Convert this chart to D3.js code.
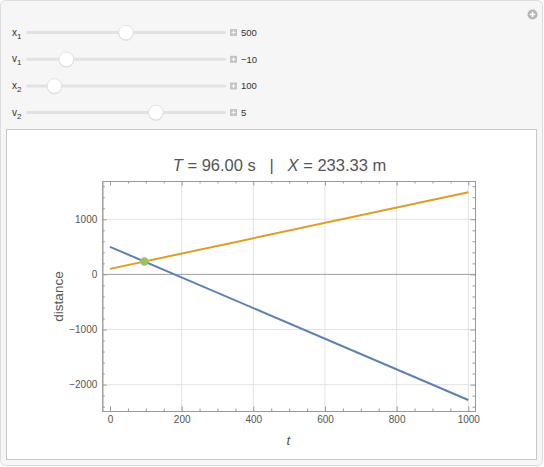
<!DOCTYPE html>
<html><head><meta charset="utf-8">
<script src="https://cdn.jsdelivr.net/npm/d3@7"></script>
<style>
html,body{margin:0;padding:0;background:#fff;}
svg text{font-family:"Liberation Sans",Arial,sans-serif;}
</style></head>
<body>
<svg id="c" width="544" height="467"></svg>
<script>
// ---- data ----
const sliderNames = ["x", "v", "x", "v"];
const sliderSubs = ["1", "1", "2", "2"];
const sliderValues = [500, -10, 100, 5];
const sliderLabels = ["500", "\u221210", "100", "5"];
const sliderDomains = [[-20, 1020], [-15.6, 15.6], [-20, 1020], [-15.6, 15.6]];

const times = [0, 1000];
const dist1 = [500, -2278];   // blue
const dist2 = [100, 1489];    // orange
const meetT = 96, meetX = 233.33;

const xMajor = [0, 200, 400, 600, 800, 1000];
const yMajor = [-2000, -1000, 0, 1000];
const xMinor = d3.range(0, 1001, 50);
const yMinor = d3.range(-2400, 1601, 200);
const titleParts = [["T", true], [" = 96.00 s   |   ", false], ["X", true], [" = 233.33 m", false]];

// ---- layout ----
const svg = d3.select("#c");
svg.append("rect").attr("x", 0.5).attr("y", 0.5).attr("width", 542).attr("height", 465)
  .attr("rx", 5).attr("fill", "#f6f6f6").attr("stroke", "#dcdcdc");

// plus icon top-right
const pg = svg.append("g").attr("transform", "translate(532.5,14.5)");
pg.append("circle").attr("r", 5).attr("fill", "#b4b4b4");
pg.append("path").attr("d", "M-2.8,0H2.8M0,-2.8V2.8").attr("stroke", "#fff").attr("stroke-width", 1.6);

// sliders
const trackX0 = 26, trackX1 = 226, rowY = [32.5, 59.3, 86, 112.5];
sliderValues.forEach((v, i) => {
  const s = d3.scaleLinear().domain(sliderDomains[i]).range([33, 219]);
  const g = svg.append("g");
  const y = rowY[i];
  const lab = g.append("text").attr("x", 12).attr("y", y + 3).attr("font-size", 10).attr("fill", "#333");
  lab.append("tspan").text(sliderNames[i]);
  lab.append("tspan").attr("font-size", 8).attr("dy", 3).text(sliderSubs[i]);
  g.append("rect").attr("x", trackX0).attr("y", y - 1.5).attr("width", trackX1 - trackX0).attr("height", 3)
    .attr("rx", 1.5).attr("fill", "#e2e2e2");
  g.append("circle").attr("cx", s(v)).attr("cy", y + 0.8).attr("r", 7.6).attr("fill", "#d8d8d8").attr("opacity", 0.6);
  g.append("circle").attr("cx", s(v)).attr("cy", y).attr("r", 7.3).attr("fill", "#fff").attr("stroke", "#d4d4d4").attr("stroke-width", 0.6);
  g.append("rect").attr("x", 230).attr("y", y - 3.5).attr("width", 7).attr("height", 7).attr("fill", "#c4c4c4");
  g.append("path").attr("d", `M${231.6},${y}H${235.4}M${233.5},${y - 1.9}V${y + 1.9}`).attr("stroke", "#fff").attr("stroke-width", 1);
  g.append("text").attr("x", 241).attr("y", y + 3.3).attr("font-size", 9.5).attr("fill", "#333").text(sliderLabels[i]);
});

// inner white panel
svg.append("rect").attr("x", 6.5).attr("y", 129.5).attr("width", 530).attr("height", 330)
  .attr("fill", "#fff").attr("stroke", "#c8c8c8");

// plot
const L = 102.3, R = 475, T = 181, B = 411;
const x = d3.scaleLinear().domain([-21.5, 1018.7]).range([L, R]);
const y = d3.scaleLinear().domain([-2478, 1694]).range([B, T]);

// gridlines
const grid = svg.append("g").attr("stroke", "#e3e3e3").attr("stroke-width", 1);
xMajor.filter(d => d !== 0).forEach(d => grid.append("line").attr("x1", x(d)).attr("x2", x(d)).attr("y1", T).attr("y2", B));
yMajor.filter(d => d !== 0).forEach(d => grid.append("line").attr("x1", L).attr("x2", R).attr("y1", y(d)).attr("y2", y(d)));
// zero axis
svg.append("line").attr("x1", L).attr("x2", R).attr("y1", y(0)).attr("y2", y(0)).attr("stroke", "#a0a0a0").attr("stroke-width", 1);

// frame axes
const fmt = d => d < 0 ? "\u2212" + Math.abs(d) : String(d);
function styleAxis(g) {
  g.selectAll("path.domain").attr("stroke", "#9a9a9a");
  g.selectAll(".tick line").attr("stroke", "#9a9a9a");
  g.selectAll(".tick text").attr("fill", "#555").attr("font-size", 10).attr("font-family", "Liberation Sans, Arial, sans-serif");
}
const xb = svg.append("g").attr("transform", `translate(0,${B})`)
  .call(d3.axisBottom(x).tickValues(xMajor).tickFormat(fmt).tickSizeInner(-4.5).tickSizeOuter(0).tickPadding(5));
const xbm = svg.append("g").attr("transform", `translate(0,${B})`)
  .call(d3.axisBottom(x).tickValues(xMinor.filter(d => !xMajor.includes(d))).tickFormat("").tickSizeInner(-2.5).tickSizeOuter(0));
const xt = svg.append("g").attr("transform", `translate(0,${T})`)
  .call(d3.axisTop(x).tickValues(xMajor).tickFormat("").tickSizeInner(-4.5).tickSizeOuter(0));
const xtm = svg.append("g").attr("transform", `translate(0,${T})`)
  .call(d3.axisTop(x).tickValues(xMinor.filter(d => !xMajor.includes(d))).tickFormat("").tickSizeInner(-2.5).tickSizeOuter(0));
const yl = svg.append("g").attr("transform", `translate(${L},0)`)
  .call(d3.axisLeft(y).tickValues(yMajor).tickFormat(fmt).tickSizeInner(-4.5).tickSizeOuter(0).tickPadding(5));
const ylm = svg.append("g").attr("transform", `translate(${L},0)`)
  .call(d3.axisLeft(y).tickValues(yMinor.filter(d => !yMajor.includes(d))).tickFormat("").tickSizeInner(-2.5).tickSizeOuter(0));
const yr = svg.append("g").attr("transform", `translate(${R},0)`)
  .call(d3.axisRight(y).tickValues(yMajor).tickFormat("").tickSizeInner(-4.5).tickSizeOuter(0));
const yrm = svg.append("g").attr("transform", `translate(${R},0)`)
  .call(d3.axisRight(y).tickValues(yMinor.filter(d => !yMajor.includes(d))).tickFormat("").tickSizeInner(-2.5).tickSizeOuter(0));
[xb, xbm, xt, xtm, yl, ylm, yr, yrm].forEach(styleAxis);

// lines
const line = d3.line().x(d => x(d[0])).y(d => y(d[1]));
svg.append("path").datum(times.map((t, i) => [t, dist1[i]])).attr("d", line)
  .attr("fill", "none").attr("stroke", "#5e81b5").attr("stroke-width", 2);
svg.append("path").datum(times.map((t, i) => [t, dist2[i]])).attr("d", line)
  .attr("fill", "none").attr("stroke", "#e19c24").attr("stroke-width", 2);
svg.append("circle").attr("cx", x(meetT)).attr("cy", y(meetX)).attr("r", 4.2).attr("fill", "#9dbf63");

// title
const tt = svg.append("text").attr("x", 279.5).attr("y", 171).attr("text-anchor", "middle")
  .attr("font-size", 16.5).attr("fill", "#555").attr("xml:space", "preserve");
titleParts.forEach(p => tt.append("tspan").attr("font-style", p[1] ? "italic" : "normal").text(p[0]));

// axis labels
svg.append("text").attr("x", 288.5).attr("y", 444.5).attr("text-anchor", "middle")
  .attr("font-size", 13.5).attr("font-style", "italic").attr("fill", "#555").text("t");
svg.append("text").attr("transform", "translate(62.5,296.5) rotate(-90)").attr("text-anchor", "middle")
  .attr("font-size", 13.5).attr("fill", "#555").text("distance");
</script>
</body></html>
